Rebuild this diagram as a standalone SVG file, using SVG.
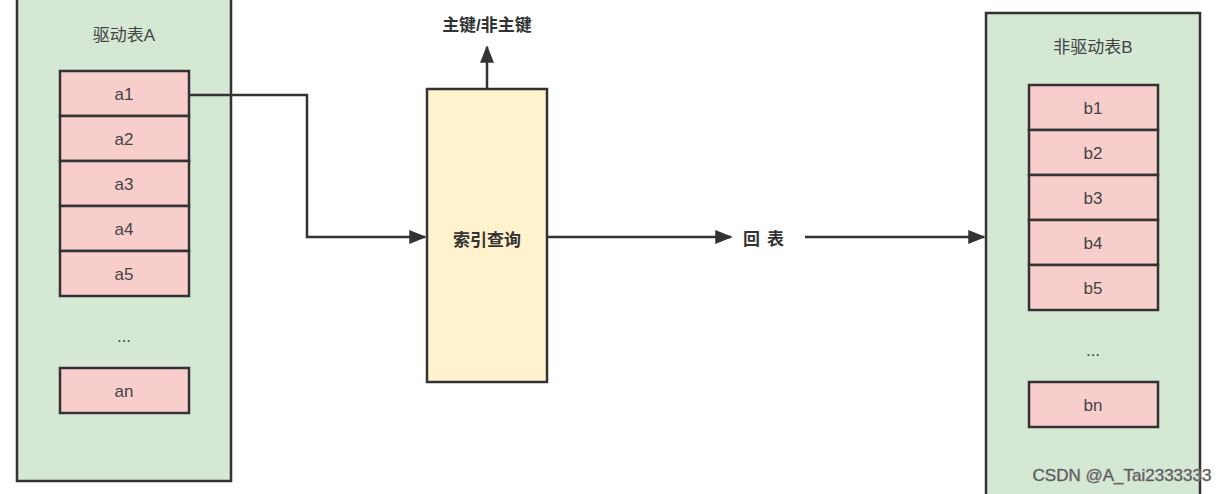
<svg xmlns="http://www.w3.org/2000/svg" width="1229" height="494" viewBox="0 0 1229 494">
<style>
.tbl{fill:#d5e8d4;stroke:#333;stroke-width:2.5}
.row{fill:#f8cecc;stroke:#333;stroke-width:2.5}
.t{font-family:"Liberation Sans","Noto Sans CJK SC",sans-serif;font-size:17px;fill:#444;text-anchor:middle;dominant-baseline:central}
.b{font-weight:bold;fill:#333}
.c{fill:none;stroke:#333;stroke-width:2.5}
</style>
<defs><marker id="ar" viewBox="0 0 10 10" refX="9" refY="5" markerWidth="7" markerHeight="7" markerUnits="strokeWidth" orient="auto"><path d="M0,1 L10,5 L0,9 Z" fill="#333"/></marker></defs>
<rect width="1229" height="494" fill="#fff"/>
<g id="tableA">
<rect class="tbl" x="17" y="-3" width="214" height="484"/>
<text class="t" x="124" y="35" font-size="20">驱动表A</text>
<rect class="row" x="60" y="71" width="129" height="45"/><text class="t" x="124" y="94">a1</text>
<rect class="row" x="60" y="116" width="129" height="45"/><text class="t" x="124" y="139">a2</text>
<rect class="row" x="60" y="161" width="129" height="45"/><text class="t" x="124" y="184">a3</text>
<rect class="row" x="60" y="206" width="129" height="45"/><text class="t" x="124" y="229">a4</text>
<rect class="row" x="60" y="251" width="129" height="45"/><text class="t" x="124" y="274">a5</text>
<text class="t" x="124" y="336" font-size="12">...</text>
<rect class="row" x="60" y="368" width="129" height="45"/><text class="t" x="124" y="391">an</text>
</g>
<g id="index">
<rect x="427" y="89" width="120" height="293" fill="#fff2cc" stroke="#333" stroke-width="2.5"/>
<text class="t b" x="487" y="240">索引查询</text>
</g>
<g id="pk"><text class="t b" x="487" y="25">主键/非主键</text></g>
<g id="back"><text class="t b" x="767" y="239" letter-spacing="7">回表</text></g>
<g id="tableB">
<rect class="tbl" x="986" y="13" width="214" height="484"/>
<text class="t" x="1093" y="47" font-size="20">非驱动表B</text>
<rect class="row" x="1029" y="85" width="129" height="45"/><text class="t" x="1093" y="108">b1</text>
<rect class="row" x="1029" y="130" width="129" height="45"/><text class="t" x="1093" y="153">b2</text>
<rect class="row" x="1029" y="175" width="129" height="45"/><text class="t" x="1093" y="198">b3</text>
<rect class="row" x="1029" y="220" width="129" height="45"/><text class="t" x="1093" y="243">b4</text>
<rect class="row" x="1029" y="265" width="129" height="45"/><text class="t" x="1093" y="288">b5</text>
<text class="t" x="1093" y="350" font-size="12">...</text>
<rect class="row" x="1029" y="382" width="129" height="45"/><text class="t" x="1093" y="405">bn</text>
</g>
<g id="connectors">
<path class="c" d="M189,95 H307 V237 H425" marker-end="url(#ar)"/>
<path class="c" d="M487,89 V47" marker-end="url(#ar)"/>
<path class="c" d="M547,237 H731" marker-end="url(#ar)"/>
<path class="c" d="M805,237 H984" marker-end="url(#ar)"/>
</g>
<text class="t" x="1122" y="475" font-size="15" fill="#fff" stroke="#888" stroke-width="0.6">CSDN @A_Tai2333333</text>
</svg>
